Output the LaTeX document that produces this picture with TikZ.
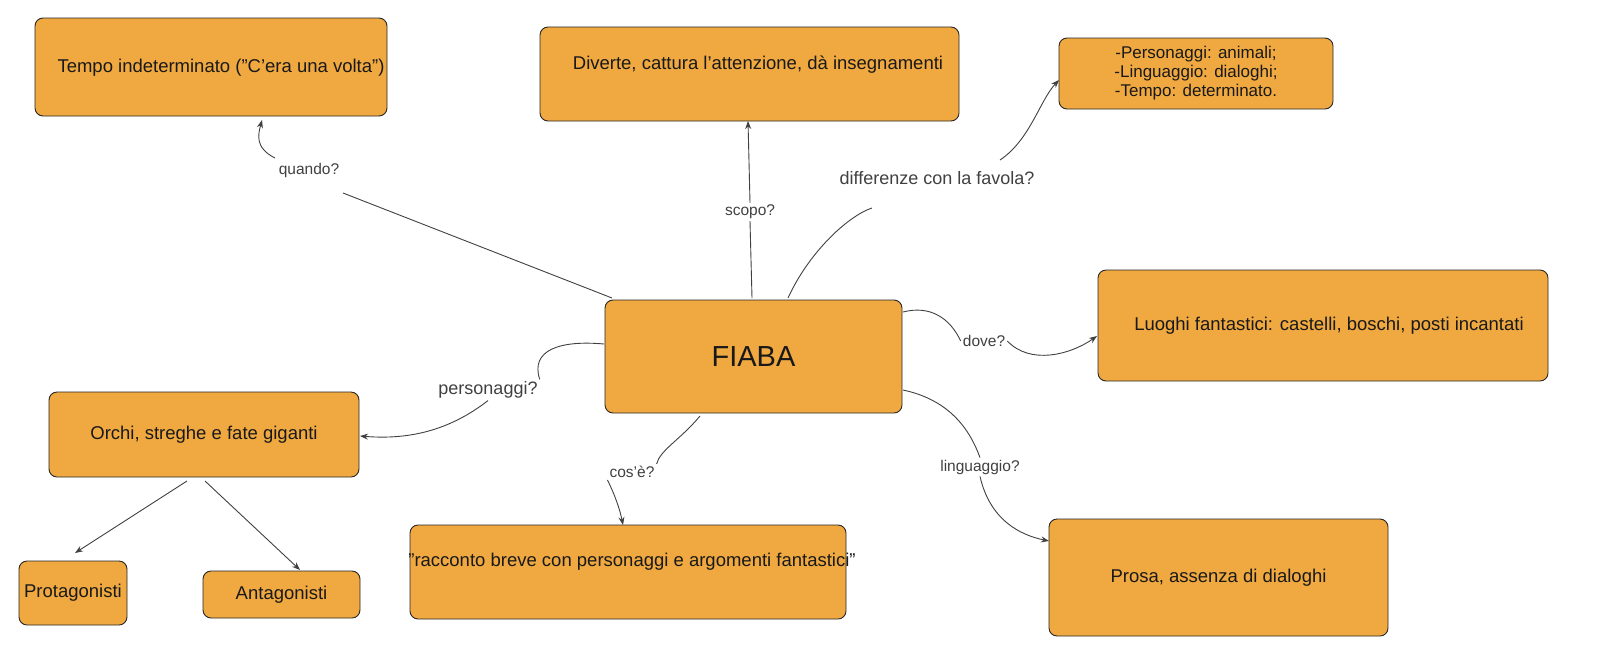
\documentclass[tikz,border=0pt]{standalone}
\usepackage{fontspec}
\setmainfont{Liberation Sans}
\usetikzlibrary{arrows.meta}
\definecolor{boxfill}{HTML}{F0A940}
\definecolor{edge}{HTML}{404040}
\newcommand{\dq}{\symbol{34}}
\newcommand{\sq}{\symbol{39}}
\begin{document}
\begin{tikzpicture}[x=1pt,y=-1pt,
  box/.style={draw=black!85,fill=boxfill,rounded corners=8pt,line width=0.9pt,inner sep=0pt,text=black!90,font=\fontsize{18.5}{22}\selectfont,align=center},
  bt/.style={inner sep=0pt,text=black!90,font=\fontsize{18.5}{22}\selectfont},
  lab/.style={inner sep=2pt,text=black!75,font=\fontsize{15.5}{18}\selectfont},
  con/.style={draw=edge,line width=0.9pt},
  arr/.style={con,-{Stealth[length=8pt,width=6pt]}}]
\useasboundingbox (0,0) rectangle (1600,670);
\node[box,minimum width=352pt,minimum height=98pt] (tempo) at (211,67) {};
\node[bt] (tempoT) at (221,68) {Tempo indeterminato (\dq C\sq era una volta\dq)};
\node[box,minimum width=419pt,minimum height=94pt] (diverte) at (749.5,74) {};
\node[bt] (diverteT) at (758,65) {Diverte, cattura l\sq attenzione, dà insegnamenti};
\node[box,minimum width=274pt,minimum height=71pt,font=\fontsize{17}{19}\selectfont] (diff) at (1196,73.5) {-Personaggi: animali;\\-Linguaggio: dialoghi;\\-Tempo: determinato.};
\node[box,minimum width=297pt,minimum height=113pt,font=\fontsize{29}{33}\selectfont] (fiaba) at (753.5,356.5) {FIABA};
\node[box,minimum width=450pt,minimum height=111pt] (luoghi) at (1323,325.5) {};
\node[bt] (luoghiT) at (1329,326) {Luoghi fantastici: castelli, boschi, posti incantati};
\node[box,minimum width=310pt,minimum height=85pt] (orchi) at (204,434.5) {Orchi, streghe e fate giganti};
\node[box,minimum width=108pt,minimum height=64pt] (prot) at (73,593) {Protagonisti};
\node[box,minimum width=157pt,minimum height=47pt] (anta) at (281.5,594.5) {Antagonisti};
\node[box,minimum width=436pt,minimum height=94pt] (racc) at (628,572) {};
\node[bt] (raccT) at (632,562) {\dq racconto breve con personaggi e argomenti fantastici\dq};
\node[box,minimum width=339pt,minimum height=117pt] (prosa) at (1218.5,577.5) {Prosa, assenza di dialoghi};
% labels
\node[lab] (lq) at (309,170) {quando?};
\node[lab] (ls) at (750,212) {scopo?};
\node[lab,font=\fontsize{18}{21}\selectfont] (ld) at (937,178) {differenze con la favola?};
\node[lab] (ldv) at (984,341) {dove?};
\node[lab,font=\fontsize{18}{21}\selectfont] (lp) at (488,390) {personaggi?};
\node[lab] (lc) at (632,472) {cos\sq è?};
\node[lab] (ll) at (980,467) {linguaggio?};
% connectors
\draw[con] (612,298) -- (343,193);
\draw[arr] (275,158) .. controls (255,148) and (258,135) .. (262,120);
\draw[con] (752,298) -- (ls.south);
\draw[arr] (ls.north) -- (748,121);
\draw[con] (788,298) .. controls (810,250) and (850,215) .. (872,208);
\draw[arr] (1000,160) .. controls (1030,140) and (1040,100) .. (1059,80);
\draw[con] (903,312) .. controls (930,305) and (950,318) .. (ldv.west);
\draw[arr] (ldv.east) .. controls (1030,365) and (1070,355) .. (1097,336);
\draw[con] (604,344) .. controls (560,340) and (530,350) .. (lp.north east);
\draw[arr] (lp.south) .. controls (450,430) and (410,440) .. (360,436);
\draw[con] (700,416) .. controls (680,440) and (660,450) .. (lc.north east);
\draw[arr] (lc.south west) .. controls (615,495) and (620,510) .. (623,525);
\draw[con] (903,390) .. controls (950,400) and (970,430) .. (ll.north);
\draw[arr] (ll.south) .. controls (990,520) and (1020,535) .. (1049,541);
\draw[arr] (187,481) -- (75,553);
\draw[arr] (205,481) -- (300,570);
\end{tikzpicture}
\end{document}
